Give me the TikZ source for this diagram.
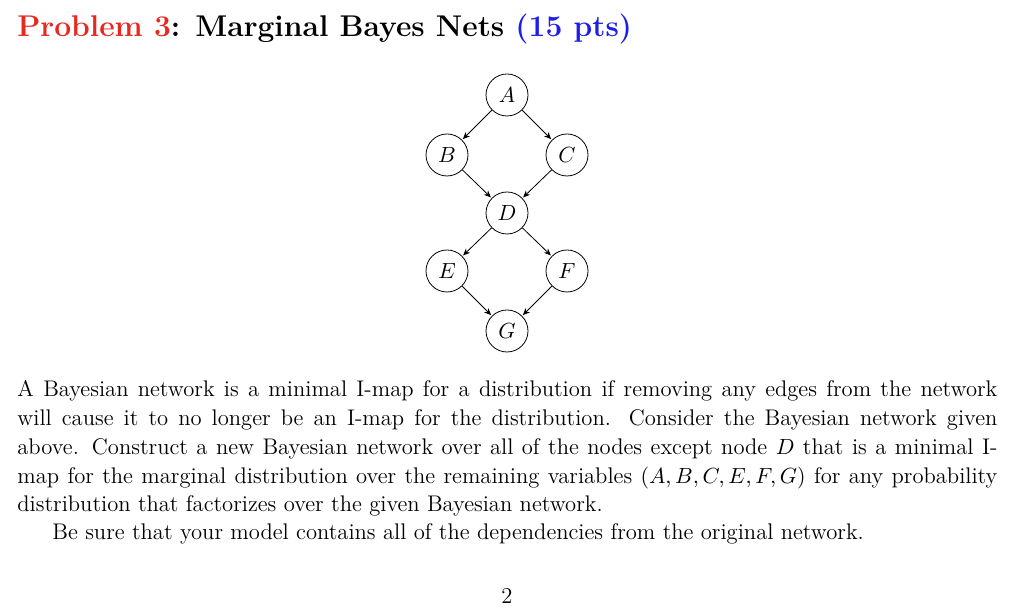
\documentclass[tikz,border=0pt]{standalone}
\usetikzlibrary{arrows.meta}
\definecolor{pred}{RGB}{230,40,30}
\definecolor{pblue}{RGB}{30,30,230}
\begin{document}
\begin{tikzpicture}[x=0.5pt,y=-0.5pt,
  nd/.style={circle,draw,thin,minimum size=21pt,inner sep=0pt,font=\fontsize{10.5}{12}\selectfont},
  ar/.style={-{Stealth[length=3.5pt,width=3pt]},thin,shorten >=0.5pt},
  ln/.style={anchor=base west,inner sep=0pt,font=\fontsize{11.3}{13}\selectfont}]
\useasboundingbox (0,0) rectangle (1024,613);
\node[anchor=base west,inner sep=0pt,font=\fontsize{15}{18}\selectfont\bfseries] (title) at (17,37)
 {\textcolor{pred}{Problem 3}: Marginal Bayes Nets \textcolor{pblue}{(15 pts)}};
\node[nd] (A) at (507,95) {$A$};
\node[nd] (B) at (447,155) {$B$};
\node[nd] (C) at (567,155) {$C$};
\node[nd] (D) at (507,213) {$D$};
\node[nd] (E) at (447,271) {$E$};
\node[nd] (F) at (567,271) {$F$};
\node[nd] (G) at (507,331) {$G$};
\draw[ar] (A) -- (B); \draw[ar] (A) -- (C);
\draw[ar] (B) -- (D); \draw[ar] (C) -- (D);
\draw[ar] (D) -- (E); \draw[ar] (D) -- (F);
\draw[ar] (E) -- (G); \draw[ar] (F) -- (G);
\node[ln] (l1) at (17,397) {\makebox[490pt][s]{A Bayesian network is a minimal I-map for a distribution if removing any edges from the network}};
\node[ln] (l2) at (17,426) {\makebox[490pt][s]{will cause it to no longer be an I-map for the distribution. Consider the Bayesian network given}};
\node[ln] (l3) at (17,455) {\makebox[490pt][s]{above. Construct a new Bayesian network over all of the nodes except node $D$ that is a minimal I-}};
\node[ln] (l4) at (17,484) {\makebox[490pt][s]{map for the marginal distribution over the remaining variables $(A,B,C,E,F,G)$ for any probability}};
\node[ln] (l5) at (17,512) {distribution that factorizes over the given Bayesian network.};
\node[ln] (l6) at (52,540) {Be sure that your model contains all of the dependencies from the original network.};
\node[ln,anchor=base] (pg) at (507,604) {2};
\end{tikzpicture}
\end{document}
